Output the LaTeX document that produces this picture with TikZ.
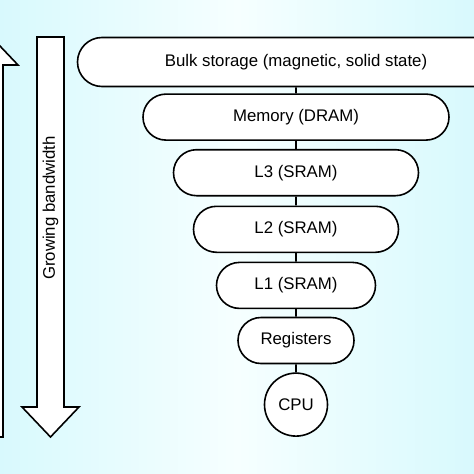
\documentclass[tikz,border=0pt]{standalone}
\usepackage{fontspec}
\setmainfont{Liberation Sans}
\usetikzlibrary{positioning,shapes.misc}
\definecolor{bgedge}{RGB}{216,249,253}
\definecolor{bgmid}{RGB}{246,255,255}
\tikzset{
  lvl/.style={draw,rounded rectangle,fill=white,line width=1.6pt,minimum height=46pt,inner sep=0pt,font=\fontsize{16.8}{18}\selectfont},
  core/.style={draw,circle,fill=white,line width=1.6pt,minimum size=63pt,inner sep=0pt,font=\fontsize{16.8}{18}\selectfont},
  link/.style={line width=1.6pt},
  bigarr/.style={draw,fill=white,line width=1.6pt,line join=miter},
  lbl/.style={font=\fontsize{16.8}{18}\selectfont},
}

\begin{document}
\begin{tikzpicture}[x=1pt,y=-1pt]
 \clip (0,0) rectangle (474,474);
 \fill[left color=bgedge,right color=bgedge,middle color=bgmid] (0,0) rectangle (474,474);
 % bandwidth arrows
 \draw[bigarr] (-24,437) -- (3,437) -- (3,65) -- (18,65) -- (-10.5,35) -- (-39,65) -- (-24,65) -- cycle;
 \draw[bigarr] (37,37) -- (64,37) -- (64,407) -- (79,407) -- (50.5,437) -- (22,407) -- (37,407) -- cycle;
 \node[lbl,rotate=90] (bw) at (50.5,208) {Growing bandwidth};
 % hierarchy
 \node[lvl,minimum height=49pt,minimum width=437pt] (bulk) at (296,62) {Bulk storage (magnetic, solid state)};
 \node[lvl,minimum width=306pt,below=6pt of bulk] (mem) {Memory (DRAM)};
 \node[lvl,minimum width=245pt,below=8pt of mem] (l3) {L3 (SRAM)};
 \node[lvl,minimum width=205pt,below=9pt of l3] (l2) {L2 (SRAM)};
 \node[lvl,minimum width=159pt,below=8.5pt of l2] (l1) {L1 (SRAM)};
 \node[lvl,minimum width=116pt,below=7.5pt of l1] (reg) {Registers};
 \node[core,below=8pt of reg] (cpu) {CPU};
 \draw[link] (bulk) -- (mem);
 \draw[link] (mem) -- (l3);
 \draw[link] (l3) -- (l2);
 \draw[link] (l2) -- (l1);
 \draw[link] (l1) -- (reg);
 \draw[link] (reg) -- (cpu);
\end{tikzpicture}
\end{document}
